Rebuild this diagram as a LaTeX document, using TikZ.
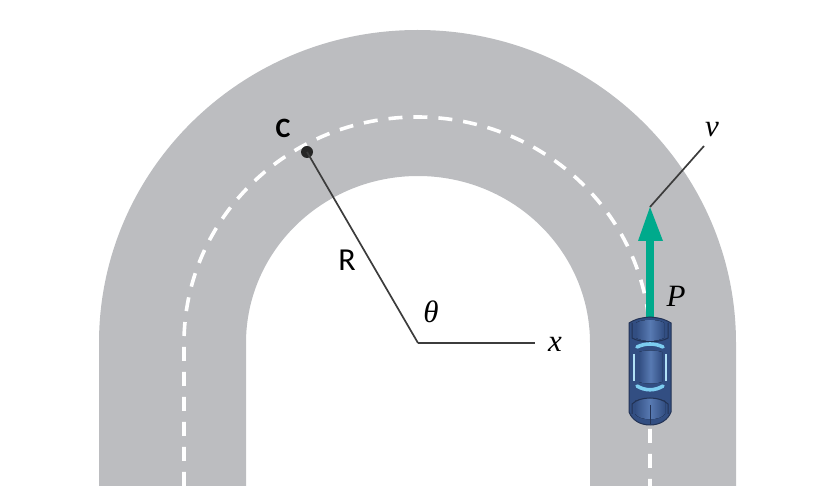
\documentclass[tikz,border=0pt]{standalone}
\usepackage{fontspec}
\setmainfont{Liberation Serif}
\newfontfamily\labelsans{Carlito}
\definecolor{road}{RGB}{188,189,192}
\definecolor{teal}{RGB}{0,170,140}
\definecolor{linegray}{RGB}{60,60,60}
\definecolor{carblue}{RGB}{50,78,130}
\definecolor{carlight}{RGB}{88,122,178}
\definecolor{cardark}{RGB}{34,50,84}
\definecolor{glass}{RGB}{125,205,240}
\tikzset{
  thinline/.style={draw=linegray,line width=1.7pt},
  mathlabel/.style={font=\fontsize{31}{34}\selectfont\itshape,inner sep=0pt},
  sanslabel/.style={font=\fontsize{32}{35}\selectfont\labelsans,inner sep=0pt},
  carline/.style={draw=cardark,line width=1pt},
  glassline/.style={draw=glass,line width=3.6pt,line cap=round},
  panel/.style={left color=carblue,right color=carblue,middle color=carlight}
}
\begin{document}
\begin{tikzpicture}[x=1pt,y=-1pt]
\useasboundingbox (0,0) rectangle (831,486);
% road
\fill[road] (99,486) -- (99,343) arc[start angle=180,end angle=360,x radius=318.5,y radius=313]
  -- (736,486) -- (590,486) -- (590,343) arc[start angle=360,end angle=180,x radius=172,y radius=167]
  -- (246,486) -- cycle;
% centre line
\draw[white,line width=3.6pt,dash pattern=on 14pt off 11pt] (184,486) -- (184,343)
  arc[start angle=180,end angle=360,x radius=233,y radius=226] -- (650,486);
% named points
\coordinate (O) at (418,343);
\coordinate (xend) at (535,343);
\coordinate (vend) at (704,146);
\coordinate (tip) at (650,207);
\coordinate (carfront) at (650,320);
\node[circle,fill=black!85,minimum size=12pt,inner sep=0pt] (C) at (307,152) {};
% connectors
\draw[thinline] (C.center) -- (O);
\draw[thinline] (O) -- (xend);
\draw[thinline] (tip) -- (vend);
% velocity arrow
\draw[teal,line width=8pt] (carfront) -- (650,238);
\fill[teal] (tip) -- (663,241) -- (638,241) -- cycle;
% car
\fill[carblue,draw=cardark,line width=1pt]
  (629,323) .. controls (634,320) and (638,318) .. (650,317) .. controls (662,318) and (666,320) .. (671,323)
  -- (671,412) .. controls (668,420) and (660,425) .. (650,425) .. controls (640,425) and (632,420) .. (629,412) -- cycle;
\fill[panel] (636,323) .. controls (640,319) and (660,319) .. (664,323) -- (664,338) .. controls (655,342) and (645,342) .. (636,338) -- cycle;
\fill[panel] (639,352) .. controls (645,350) and (655,350) .. (662,352) -- (662,382) .. controls (655,384) and (645,384) .. (639,382) -- cycle;
\fill[panel] (635,401) .. controls (645,397) and (655,397) .. (665,401) -- (665,414) .. controls (660,421) and (640,421) .. (635,414) -- cycle;
\draw[carline] (632,323) -- (632,338) .. controls (640,343) and (660,343) .. (668,338) -- (668,323);
\draw[carline] (632,414) -- (632,404) .. controls (640,396) and (660,396) .. (668,404) -- (668,414);
\draw[carline] (650,405) -- (650,424);
\draw[glassline] (637,347) .. controls (645,343) and (655,343) .. (663,347);
\draw[glassline] (637,386) .. controls (645,391) and (655,391) .. (663,386);
\draw[draw=glass!60!white,line width=2.4pt] (634,354) -- (634,381);
\draw[draw=glass!60!white,line width=2.4pt] (666,354) -- (666,381);
% labels
\node[font=\fontsize{28}{30}\selectfont\labelsans\bfseries,inner sep=0pt] (Clabel) at (283,128) {C};
\node[sanslabel] (Rlabel) at (347,260) {R};
\node[mathlabel] (thetalabel) at (431,312) {θ};
\node[mathlabel] (xlabel) at (555,344) {x};
\node[mathlabel] (Plabel) at (676,296) {P};
\node[mathlabel] (vlabel) at (712,130) {v};
\end{tikzpicture}
\end{document}
